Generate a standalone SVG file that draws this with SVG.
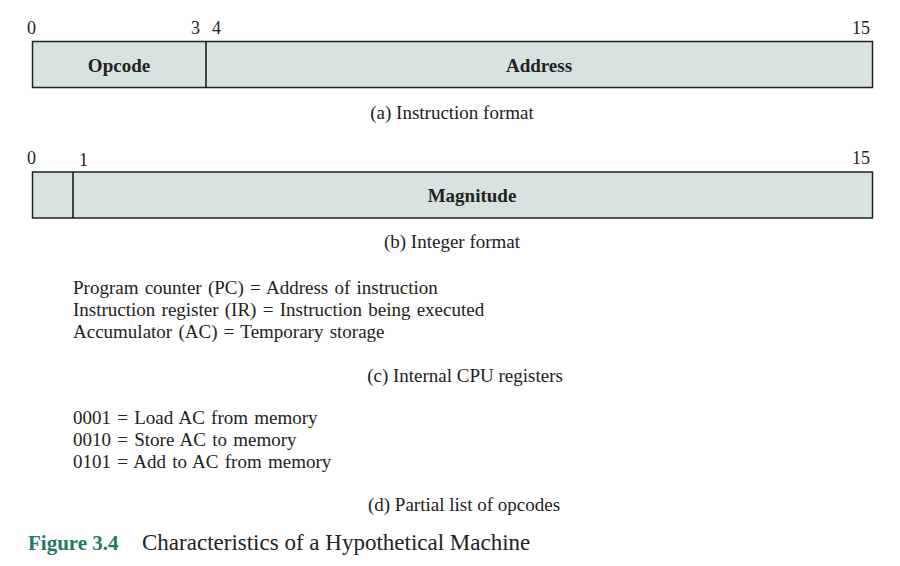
<svg xmlns="http://www.w3.org/2000/svg" width="900" height="566" viewBox="0 0 900 566">
<style>
text{font-family:"Liberation Serif","Times New Roman",serif;fill:#222;font-size:19px}
.n{font-size:18px}
.b{font-weight:bold}
.c{text-anchor:middle}
.e{text-anchor:end}
.t{word-spacing:1.5px}
.box{fill:#d6e3e0;stroke:#222;stroke-width:1.5}
.div{stroke:#111;stroke-width:1.5}
.fig{fill:#1f7a67;font-weight:bold;font-size:21px}
.cap{font-size:23px}
</style>
<rect width="900" height="566" fill="#fff"/>
<g id="instruction-format">
<text class="n" x="27" y="34">0</text>
<text class="n" x="191" y="34">3</text>
<text class="n" x="212" y="34">4</text>
<text class="n e" x="870" y="34">15</text>
<rect class="box" x="32.5" y="41.5" width="840" height="46"/>
<line class="div" x1="206" y1="41.5" x2="206" y2="87.5"/>
<text class="b c" x="119" y="72">Opcode</text>
<text class="b c" x="539" y="72">Address</text>
<text class="c" x="452" y="119">(a) Instruction format</text>
</g>
<g id="integer-format">
<text class="n" x="27" y="164">0</text>
<text class="n" x="79" y="166">1</text>
<text class="n e" x="870" y="164">15</text>
<rect class="box" x="32.5" y="172" width="840" height="46"/>
<line class="div" x1="73" y1="172" x2="73" y2="218"/>
<text class="b c" x="472" y="202">Magnitude</text>
<text class="c" x="452" y="248">(b) Integer format</text>
</g>
<g id="registers">
<text class="t" x="73" y="294">Program counter (PC) = Address of instruction</text>
<text class="t" x="73" y="316">Instruction register (IR) = Instruction being executed</text>
<text class="t" x="73" y="338">Accumulator (AC) = Temporary storage</text>
<text class="c" x="465" y="382">(c) Internal CPU registers</text>
</g>
<g id="opcodes">
<text class="t" x="73" y="424">0001 = Load AC from memory</text>
<text class="t" x="73" y="446">0010 = Store AC to memory</text>
<text class="t" x="73" y="468">0101 = Add to AC from memory</text>
<text class="c" x="464" y="511">(d) Partial list of opcodes</text>
</g>
<g id="caption">
<text class="fig" x="28" y="550">Figure 3.4</text>
<text class="cap" x="142" y="550">Characteristics of a Hypothetical Machine</text>
</g>
<g id="connectors"></g>
</svg>
